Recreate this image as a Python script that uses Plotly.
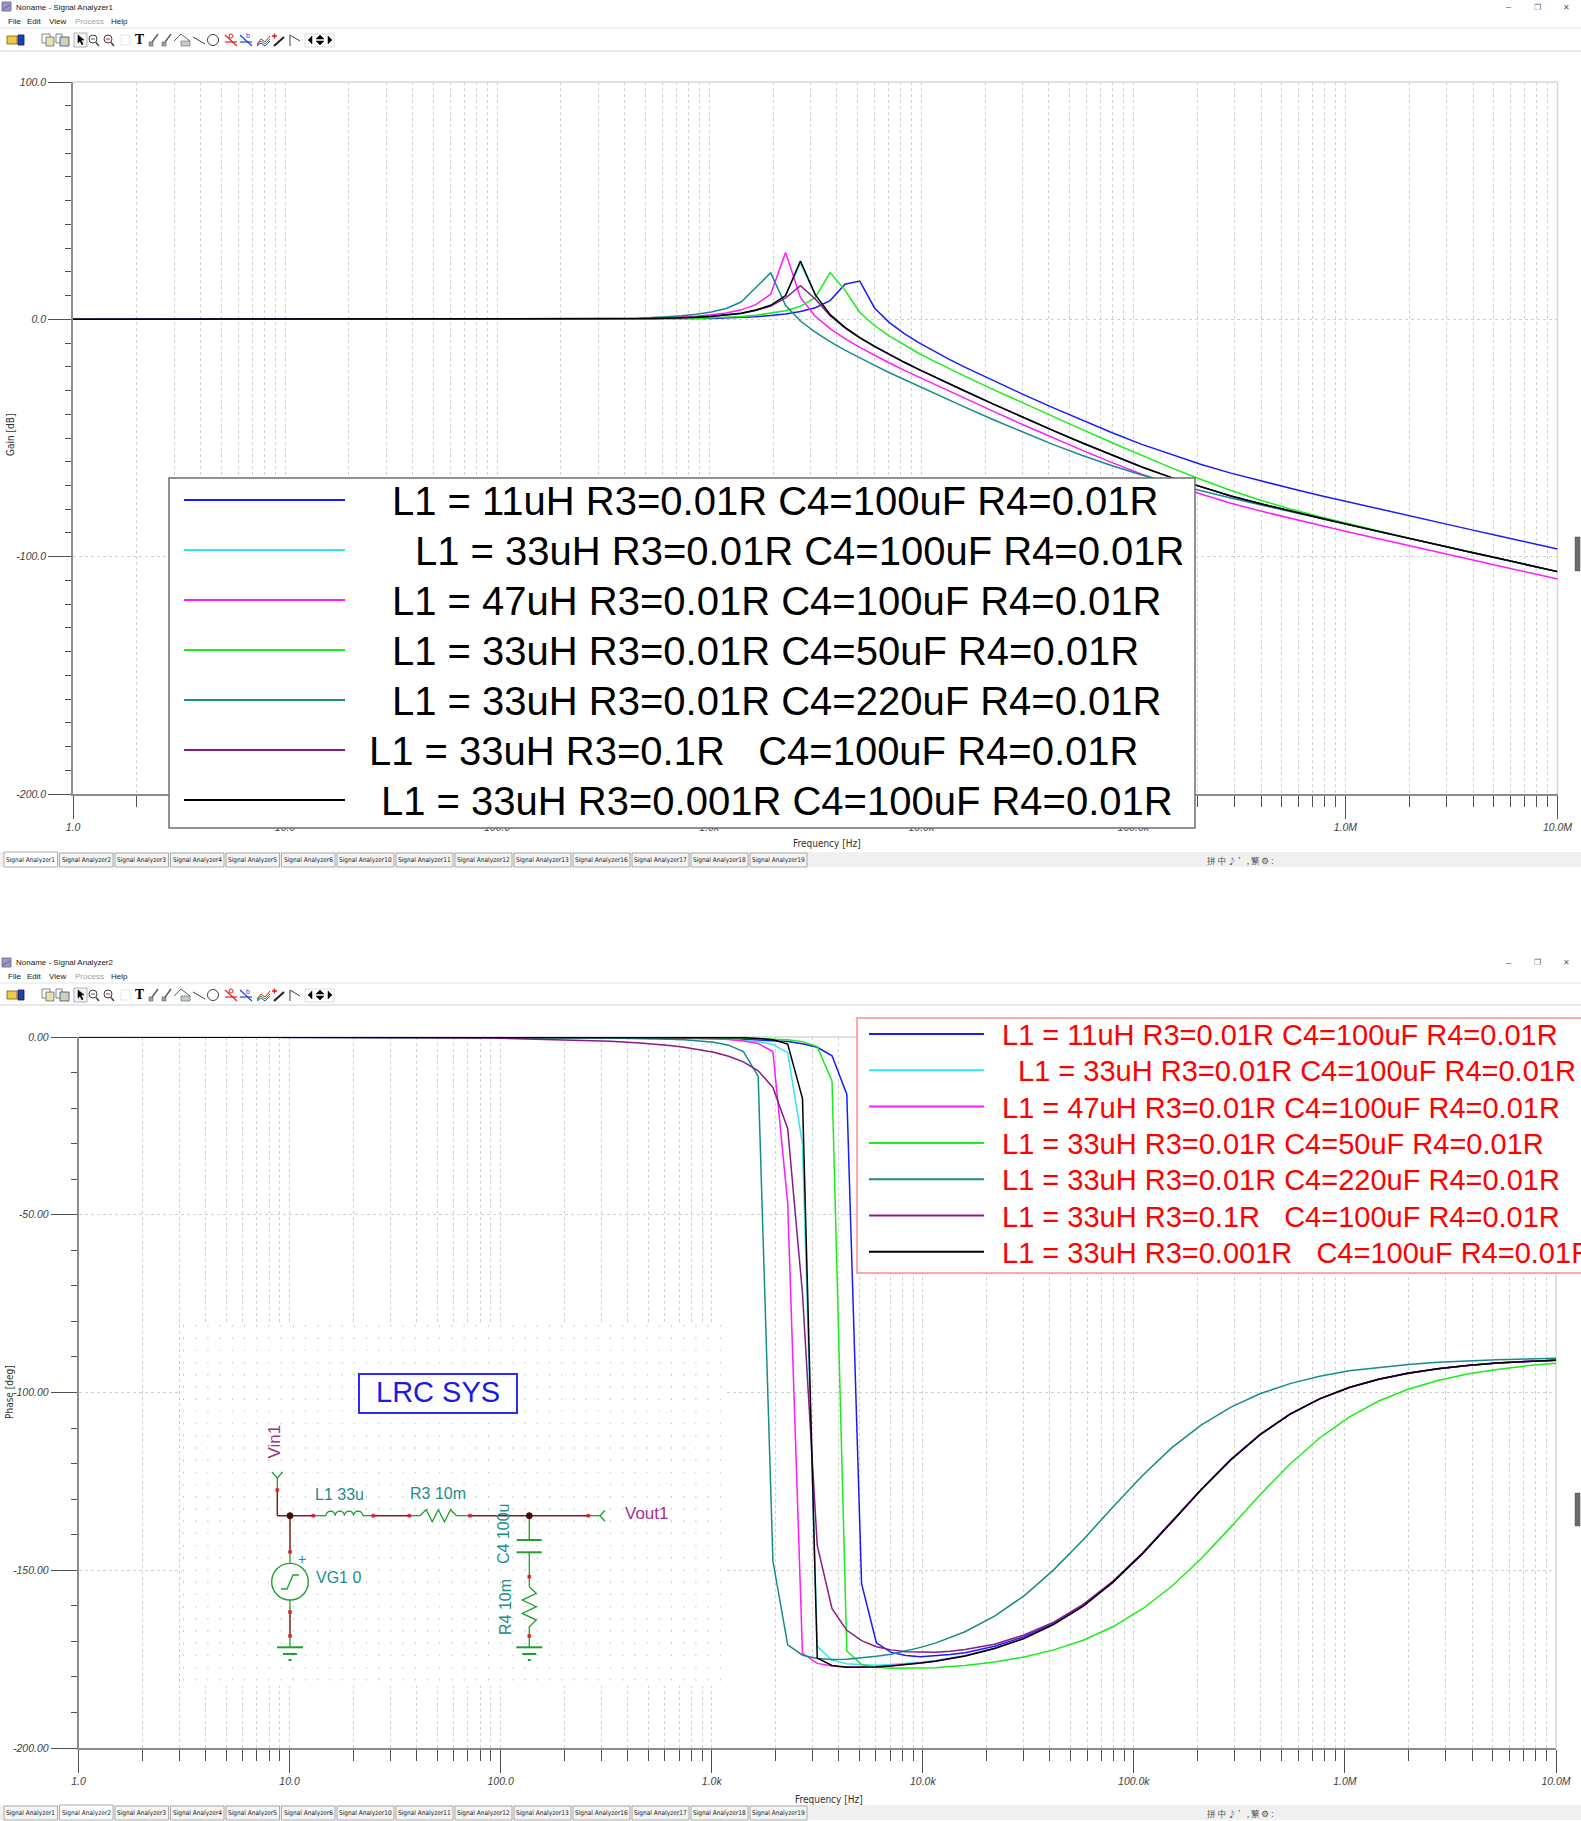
import math
import plotly.graph_objects as go

# ---------------------------------------------------------------
# values read off the two TINA signal analyser windows
# ---------------------------------------------------------------
FREQ_HZ = [1, 5.012, 25.12, 56.23, 91.2, 125.9, 173.8, 239.9, 331.1, 457.1, 537,
           631, 741.3, 871, 1023, 1202, 1413, 1660, 1950, 2291, 2692, 3162, 3715, 4365,
           5129, 6026, 7079, 8318, 9772, 11480, 13490, 15850,
           21880, 30200, 41690, 57540, 79430, 109600, 151400, 208900, 288400, 398100,
           549500, 758600, 1047000, 1445000, 1995000, 2754000, 3802000, 5248000, 7244000, 10000000]

# gain [dB]
GAIN_L11 = [0, 0, 0, 0, 0, 0, 0, 0, 0, 0.1, 0.1,
            0.2, 0.2, 0.3, 0.4, 0.6, 0.8, 1.1, 1.6, 2.2, 3.3, 4.9, 7.9, 14.8, 16.1, 4.7, -1.4, -6.0, -9.9, -13.5, -16.8, -19.9,
            -25.8, -31.6, -37.2, -42.6, -47.8, -52.7, -57.1, -61.2, -64.8, -68.1, -71.2, -74.2, -77.1, -79.9, -82.8, -85.6, -88.4, -91.2, -94.0, -96.8]
GAIN_L33 = [0, 0, 0, 0, 0, 0, 0, 0.1, 0.1, 0.2, 0.3,
            0.5, 0.6, 0.9, 1.3, 1.8, 2.6, 3.9, 5.9, 10.0, 23.7, 10.3, 1.9, -3.4, -7.7, -11.4, -14.8, -18.1, -21.2, -24.2, -27.1, -30.0,
            -35.7, -41.3, -46.8, -52.1, -57.3, -62.2, -66.7, -70.7, -74.4, -77.7, -80.8, -83.7, -86.6, -89.5, -92.3, -95.1, -97.9, -100.7, -103.5, -106.3]
GAIN_L47 = [0, 0, 0, 0, 0, 0, 0, 0.1, 0.2, 0.3, 0.5,
            0.7, 0.9, 1.3, 1.9, 2.7, 4.0, 6.2, 10.6, 28.2, 9.2, 1.3, -3.9, -8.1, -11.8, -15.2, -18.4, -21.5, -24.4, -27.4, -30.3, -33.1,
            -38.8, -44.4, -49.9, -55.2, -60.4, -65.3, -69.8, -73.8, -77.5, -80.8, -83.9, -86.8, -89.7, -92.6, -95.4, -98.2, -101.0, -103.8, -106.6, -109.4]
GAIN_C50 = [0, 0, 0, 0, 0, 0, 0, 0, 0.1, 0.1, 0.2,
            0.2, 0.3, 0.4, 0.6, 0.9, 1.2, 1.7, 2.5, 3.6, 5.5, 9.1, 19.7, 12.3, 2.9, -2.7, -7.1, -10.9, -14.4, -17.6, -20.7, -23.7,
            -29.6, -35.3, -40.9, -46.5, -52.0, -57.4, -62.6, -67.5, -72.1, -76.2, -79.9, -83.2, -86.3, -89.3, -92.2, -95.1, -97.9, -100.7, -103.5, -106.3]
GAIN_C220 = [0, 0, 0, 0, 0, 0, 0.1, 0.1, 0.3, 0.5, 0.7,
             1.1, 1.5, 2.1, 3.1, 4.6, 7.3, 13.3, 19.6, 5.9, -0.7, -5.4, -9.4, -13.0, -16.3, -19.4, -22.5, -25.4, -28.3, -31.2, -34.0, -36.8,
             -42.3, -47.6, -52.7, -57.4, -61.7, -65.6, -69.0, -72.2, -75.3, -78.2, -81.1, -83.9, -86.7, -89.5, -92.3, -95.1, -97.9, -100.7, -103.5, -106.3]
GAIN_R01 = [0, 0, 0, 0, 0, 0, 0, 0.1, 0.1, 0.2, 0.3,
            0.5, 0.6, 0.9, 1.2, 1.8, 2.5, 3.7, 5.6, 9.0, 14.2, 8.6, 1.5, -3.6, -7.8, -11.5, -14.9, -18.1, -21.2, -24.2, -27.1, -30.0,
            -35.7, -41.3, -46.8, -52.1, -57.3, -62.2, -66.7, -70.7, -74.4, -77.7, -80.8, -83.7, -86.6, -89.5, -92.3, -95.1, -97.9, -100.7, -103.5, -106.3]
GAIN_R0001 = [0, 0, 0, 0, 0, 0, 0, 0.1, 0.1, 0.2, 0.3,
              0.5, 0.6, 0.9, 1.3, 1.8, 2.6, 3.9, 5.9, 10.0, 24.6, 10.4, 2.0, -3.4, -7.7, -11.4, -14.8, -18.1, -21.2, -24.2, -27.1, -30.0,
              -35.7, -41.3, -46.8, -52.1, -57.3, -62.2, -66.7, -70.7, -74.4, -77.7, -80.8, -83.7, -86.6, -89.5, -92.3, -95.1, -97.9, -100.7, -103.5, -106.3]

# phase [deg]
PHASE_L11 = [0, 0, 0, 0, 0, 0, -0.1, -0.1, -0.1, -0.2, -0.2,
             -0.2, -0.3, -0.3, -0.4, -0.5, -0.6, -0.8, -1.0, -1.3, -1.9, -2.9, -5.3, -16.1, -153.8, -170.4, -173.1, -174.0, -174.3, -174.1, -173.7, -173.2,
             -171.4, -168.7, -164.9, -159.8, -153.3, -145.3, -136.3, -127.2, -118.8, -111.7, -106.1, -101.8, -98.6, -96.3, -94.6, -93.3, -92.4, -91.7, -91.3, -90.9]
PHASE_L33 = [0, 0, 0, 0, 0, 0, -0.1, -0.1, -0.1, -0.2, -0.2,
             -0.3, -0.3, -0.4, -0.5, -0.6, -0.9, -1.3, -2.1, -4.4, -30.1, -171.4, -175.3, -176.3, -176.6, -176.7, -176.5, -176.3, -175.9, -175.4, -174.7, -174.0,
             -171.9, -169.1, -165.2, -160.0, -153.4, -145.4, -136.4, -127.3, -118.9, -111.8, -106.1, -101.8, -98.6, -96.3, -94.6, -93.3, -92.4, -91.7, -91.3, -90.9]
PHASE_L47 = [0, 0, 0, 0, 0, 0, -0.1, -0.1, -0.1, -0.2, -0.2,
             -0.3, -0.3, -0.4, -0.5, -0.7, -1.1, -1.8, -4.1, -46.8, -173.4, -176.2, -176.9, -177.2, -177.2, -177.1, -176.8, -176.5, -176.1, -175.5, -174.9, -174.1,
             -172.0, -169.1, -165.2, -160.1, -153.4, -145.4, -136.4, -127.3, -118.9, -111.8, -106.1, -101.8, -98.6, -96.3, -94.6, -93.3, -92.4, -91.7, -91.3, -90.9]
PHASE_C50 = [0, 0, 0, 0, 0, 0, 0, 0, -0.1, -0.1, -0.1,
             -0.1, -0.1, -0.2, -0.2, -0.3, -0.3, -0.4, -0.6, -0.8, -1.3, -2.7, -12.4, -172.7, -176.5, -177.3, -177.6, -177.6, -177.6, -177.4, -177.1, -176.8,
             -175.8, -174.4, -172.4, -169.7, -165.9, -160.9, -154.5, -146.7, -137.8, -128.6, -120.1, -112.8, -106.9, -102.4, -99.1, -96.6, -94.8, -93.5, -92.5, -91.8]
PHASE_C220 = [0, 0, 0, 0, -0.1, -0.1, -0.1, -0.2, -0.3, -0.4, -0.5,
              -0.6, -0.8, -1.1, -1.5, -2.3, -4.1, -11.0, -147.4, -171.0, -173.9, -174.8, -175.1, -175.0, -174.7, -174.2, -173.6, -172.7, -171.7, -170.5, -169.0, -167.3,
              -162.9, -157.2, -149.9, -141.4, -132.3, -123.4, -115.5, -109.1, -104.1, -100.3, -97.5, -95.4, -93.9, -92.9, -92.1, -91.5, -91.1, -90.8, -90.6, -90.4]
PHASE_R01 = [0, 0, -0.1, -0.2, -0.3, -0.5, -0.6, -0.9, -1.2, -1.7, -2.0,
             -2.4, -2.9, -3.5, -4.3, -5.4, -7.0, -9.5, -14.2, -25.8, -72.2, -143.0, -160.8, -166.9, -169.8, -171.5, -172.4, -172.9, -173.1, -173.1, -172.8, -172.3,
             -170.8, -168.2, -164.6, -159.6, -153.1, -145.2, -136.2, -127.2, -118.8, -111.7, -106.1, -101.8, -98.6, -96.3, -94.5, -93.3, -92.4, -91.7, -91.3, -90.9]
PHASE_R0001 = [0, 0, 0, 0, 0, 0, 0, 0, 0, 0, 0,
               0, 0, -0.1, -0.1, -0.2, -0.2, -0.4, -0.8, -2.0, -17.3, -174.7, -176.8, -177.3, -177.3, -177.2, -176.9, -176.6, -176.1, -175.6, -174.9, -174.1,
               -172.0, -169.2, -165.2, -160.1, -153.4, -145.4, -136.4, -127.3, -118.9, -111.8, -106.1, -101.8, -98.6, -96.3, -94.6, -93.3, -92.4, -91.7, -91.3, -90.9]

GAIN_SERIES = [GAIN_L11, GAIN_L33, GAIN_L47, GAIN_C50, GAIN_C220, GAIN_R01, GAIN_R0001]
PHASE_SERIES = [PHASE_L11, PHASE_L33, PHASE_L47, PHASE_C50, PHASE_C220, PHASE_R01, PHASE_R0001]
SERIES_COLORS = ["#1a1aff", "#33e6f2", "#ff1aff", "#1aee1a", "#178a8a", "#8a1a8a", "#000000"]

GAIN_LABELS = ["L1 = 11uH R3=0.01R C4=100uF R4=0.01R",
               "L1 = 33uH R3=0.01R C4=100uF R4=0.01R",
               "L1 = 47uH R3=0.01R C4=100uF R4=0.01R",
               "L1 = 33uH R3=0.01R C4=50uF R4=0.01R",
               "L1 = 33uH R3=0.01R C4=220uF R4=0.01R",
               "L1 = 33uH R3=0.1R   C4=100uF R4=0.01R",
               "L1 = 33uH R3=0.001R C4=100uF R4=0.01R"]
PHASE_LABELS = GAIN_LABELS[:6] + ["L1 = 33uH R3=0.001R   C4=100uF R4=0.01R"]

X_TICK_HZ = [1, 10, 100, 1e3, 1e4, 1e5, 1e6, 1e7]
X_TICK_TEXT = ["1.0", "10.0", "100.0", "1.0k", "10.0k", "100.0k", "1.0M", "10.0M"]
GAIN_TICKS = [100, 0, -100, -200]
GAIN_TICK_TEXT = ["100.0", "0.0", "-100.0", "-200.0"]
PHASE_TICKS = [0, -50, -100, -150, -200]
PHASE_TICK_TEXT = ["0.00", "-50.00", "-100.00", "-150.00", "-200.00"]
TAB_NAMES = ["1", "2", "3", "4", "5", "6", "10", "11", "12", "13", "16", "17", "18", "19"]

# ---------------------------------------------------------------
W, H = 1581, 1821
UI_FONT = "Liberation Sans Narrow, DejaVu Sans Condensed, Liberation Sans, sans-serif"
ARIAL = "Liberation Sans, Arial, sans-serif"
GRID = "#d0d0d0"
AXIS = "#8c8c8c"
TICK = "#505050"

shapes = []
annotations = []


def px(x):
    return x / W


def py(y):
    return 1 - y / H


def line(x0, y0, x1, y1, color, width=1.0, dash="solid", layer="above"):
    shapes.append(dict(type="line", xref="paper", yref="paper", layer=layer,
                       x0=px(x0), y0=py(y0), x1=px(x1), y1=py(y1),
                       line=dict(color=color, width=width, dash=dash)))


def rect(x0, y0, x1, y1, color, fill="rgba(0,0,0,0)", width=1.0, layer="above"):
    shapes.append(dict(type="rect", xref="paper", yref="paper", layer=layer,
                       x0=px(x0), y0=py(y0), x1=px(x1), y1=py(y1),
                       line=dict(color=color, width=width), fillcolor=fill))


def circle(cx, cy, r, color, fill="rgba(0,0,0,0)", width=1.0):
    shapes.append(dict(type="circle", xref="paper", yref="paper", layer="above",
                       x0=px(cx - r), y0=py(cy + r), x1=px(cx + r), y1=py(cy - r),
                       line=dict(color=color, width=width), fillcolor=fill))


def poly(points, color, width=1.0, fill=None):
    d = "M " + " L ".join("%.6f,%.6f" % (px(x), py(y)) for x, y in points)
    if fill:
        d += " Z"
    shapes.append(dict(type="path", xref="paper", yref="paper", layer="above", path=d,
                       line=dict(color=color, width=width),
                       fillcolor=fill if fill else "rgba(0,0,0,0)"))


def text(x, y, s, size, color="#000000", family=ARIAL, xanchor="center", yanchor="middle",
         angle=0, style="normal", weight="normal"):
    annotations.append(dict(x=px(x), y=py(y), xref="paper", yref="paper", text=s,
                            showarrow=False, xanchor=xanchor, yanchor=yanchor, textangle=angle,
                            font=dict(family=family, size=size, color=color, style=style, weight=weight)))


def window_chrome(title, y_title, y_menu, y_sep1, y_tool, y_sep2):
    rect(2, y_title - 5, 11, y_title + 4, "#6a5a9a", "#a890d0", 0.8)
    line(3, y_title + 2, 10, y_title - 2, "#30a040", 1.2)
    text(14, y_title, title, 8, "#202020", ARIAL, xanchor="left")
    text(1508, y_title, "\u2013", 9, "#606060")
    text(1537, y_title, "\u2750", 8, "#606060", "DejaVu Sans")
    text(1566, y_title, "\u2715", 8, "#606060", "DejaVu Sans")
    for label, x, col in [("File", 6, "#202020"), ("Edit", 25, "#202020"), ("View", 47, "#202020"),
                          ("Process", 73, "#a0a0a0"), ("Help", 109, "#202020")]:
        text(x, y_menu, label, 8, col, ARIAL, xanchor="left")
    line(0, y_sep1, W, y_sep1, "#e4e4e4", 1)
    line(0, y_sep2, W, y_sep2, "#cfcfcf", 1.2)
    yc = y_tool
    # toolbar buttons (simplified glyphs)
    rect(7, yc - 4, 17, yc + 4, "#7a5a00", "#efc94c", 0.8)
    rect(18, yc - 5, 24, yc + 5, "#101060", "#2040b0", 0.8)
    rect(42, yc - 6, 50, yc + 3, "#666666", "#ffffff", 0.8)
    rect(46, yc - 3, 54, yc + 6, "#666666", "#e8e0b0", 0.8)
    rect(56, yc - 6, 62, yc + 3, "#666666", "#ffffff", 0.8)
    rect(60, yc - 3, 69, yc + 6, "#2050a0", "#d8d0a8", 0.8)
    rect(74, yc - 7, 87, yc + 7, "#a0a0a0", "#f4f4f4", 0.8)
    poly([(78, yc - 5), (78, yc + 3), (80, yc + 1), (82, yc + 5), (83, yc + 4), (81, yc), (84, yc)],
         "#000000", 0.6, "#000000")
    for zx, mark in [(93, "#208020"), (108, "#c02020")]:
        circle(zx, yc - 1, 4, "#404040", "#ffffff", 1)
        line(zx - 2, yc - 1, zx + 2, yc - 1, mark, 1)
        line(zx + 3, yc + 2.5, zx + 6, yc + 6, "#404040", 1.5)
    rect(121, yc - 5, 130, yc + 5, "#e0e0e0", "#ffffff", 0.8)
    text(139.5, yc, "T", 12, "#000000", "DejaVu Serif", weight="bold")
    for ix in (149, 162):
        line(ix + 1, yc + 5, ix + 9, yc - 6, "#606060", 1.5)
        rect(ix, yc + 2, ix + 4, yc + 6, "#606060", "#a0a0a0", 0.6)
    poly([(174, yc + 1), (181, yc - 6), (190, yc + 1)], "#606060", 1)
    rect(181, yc + 1, 190, yc + 6, "#606060", "#c0d0c0", 0.6)
    line(193, yc - 3, 205, yc + 4, "#404040", 1)
    circle(213, yc, 5.5, "#404040", "#ffffff", 1)
    line(225, yc - 5, 237, yc + 6, "#e02020", 1.2)
    line(225, yc + 2, 237, yc + 2, "#e02020", 1.2)
    circle(231, yc - 4, 2, "#e02020", "#ffffff", 1)
    line(240, yc - 5, 252, yc + 6, "#2040e0", 1.2)
    line(240, yc + 2, 252, yc + 2, "#2040e0", 1.2)
    text(248, yc - 4, "b", 7, "#2040e0")
    poly([(257, yc + 4), (261, yc - 1), (265, yc + 2), (270, yc - 4)], "#e02020", 1)
    poly([(257, yc + 5), (261, yc + 1), (265, yc + 4), (270, yc - 1)], "#20b020", 1)
    poly([(257, yc + 6), (261, yc + 3), (265, yc + 6), (270, yc + 1)], "#2040e0", 1)
    line(272, yc - 4, 277, yc - 4, "#e02020", 1.5)
    line(274.5, yc - 6.5, 274.5, yc - 1.5, "#e02020", 1.5)
    line(274, yc + 6, 284, yc - 3, "#202020", 2)
    poly([(290, yc + 6), (290, yc - 5), (300, yc + 1)], "#404040", 1)
    rect(305, yc - 6, 334, yc + 7, "#c8c8c8", "#ffffff", 0.6)
    poly([(308, yc), (312, yc - 4), (312, yc + 4)], "#000000", 0.5, "#000000")
    poly([(316, yc - 1), (320, yc - 5), (324, yc - 1)], "#000000", 0.5, "#000000")
    poly([(316, yc + 1), (320, yc + 5), (324, yc + 1)], "#000000", 0.5, "#000000")
    poly([(332, yc), (328, yc - 4), (328, yc + 4)], "#000000", 0.5, "#000000")


def tab_strip(y0, y1, active):
    rect(0, y0, W, y1, "#f0f0f0", "#f0f0f0", 0)
    x = 4
    for i, name in enumerate(TAB_NAMES):
        w = 55.5 if len(name) == 1 else 59
        fill = "#ffffff" if i == active else "#f4f4f4"
        rect(x, y0 + (0 if i == active else 1), x + w - 2, y1, "#9a9a9a", fill, 0.8)
        text(x + (w - 2) / 2, (y0 + y1) / 2 + 0.5, "Signal Analyzer" + name, 6.5, "#202020", UI_FONT)
        x += w
    text(1240, (y0 + y1) / 2, "\u62fc \u4e2d \u266a \u2019, \u7e41 \u2699 :", 8.5, "#555555",
         "Noto Sans CJK SC")


def schematic():
    # white sheet with dot grid (hides plot grid behind it)
    rect(180, 1323, 727, 1686, "#ffffff", "#ffffff", 0)
    yy = 1326
    while yy < 1686:
        line(183, yy, 727, yy, "#bdbdbd", 1.4, "1px,11.2px")
        yy += 12.2
    rect(359, 1374, 517, 1413, "#2a2aff", "#ffffff", 2)
    text(438, 1392, "LRC SYS", 29, "#1a1ae6")

    wire, comp, lab, purp, pin = "#7a1f1f", "#1fa030", "#1e8c8c", "#a0308f", "#e02020"
    yw = 1515.7
    # input terminal and main wire
    line(272, 1472, 277.3, 1478, comp, 1.3)
    line(282.6, 1472, 277.3, 1478, comp, 1.3)
    line(277.3, 1478, 277.3, 1490, comp, 1.3)
    line(277.3, 1490, 277.3, yw, wire, 1.5)
    line(277.3, yw, 313.3, yw, wire, 1.5)
    line(313.3, yw, 326, yw, comp, 1.3)
    coil = []
    for i in range(4):
        cx = 326 + 4.6 + 9.2 * i
        for j in range(9):
            t = math.pi * j / 8
            coil.append((cx - 4.6 * math.cos(t), yw - 4.6 * math.sin(t)))
    poly(coil, comp, 1.3)
    line(362.7, yw, 373.3, yw, comp, 1.3)
    line(373.3, yw, 409.3, yw, wire, 1.5)
    line(409.3, yw, 420, yw, comp, 1.3)
    zig = [(420, yw)] + [(420 + 6.1 * j, yw + (-6 if j % 2 else 6)) for j in range(1, 6)] + [(456.7, yw)]
    poly(zig, comp, 1.3)
    line(456.7, yw, 470, yw, comp, 1.3)
    line(470, yw, 588.3, yw, wire, 1.5)
    line(588.3, yw, 600, yw, comp, 1.3)
    line(600, yw, 605, yw - 5.5, comp, 1.3)
    line(600, yw, 605, yw + 5.5, comp, 1.3)
    # source branch
    line(290, yw, 290, 1552, wire, 1.5)
    line(290, 1552, 290, 1563.4, comp, 1.3)
    circle(290, 1581.7, 18.3, comp, "#ffffff", 1.4)
    poly([(281, 1589), (287, 1589), (293, 1575), (299, 1575)], comp, 1.3)
    line(290, 1600, 290, 1612, comp, 1.3)
    line(290, 1612, 290, 1636, wire, 1.5)
    line(290, 1636, 290, 1647.3, comp, 1.3)
    # RC branch
    line(529.3, yw, 529.3, 1540, comp, 1.3)
    line(516.7, 1540, 541.7, 1540, comp, 2)
    line(516.7, 1552.3, 541.7, 1552.3, comp, 2)
    line(529.3, 1552.3, 529.3, 1586.7, comp, 1.3)
    zig = [(529.3, 1586.7)] + [(529.3 + (7 if j % 2 else -7), 1586.7 + 6.67 * j) for j in range(1, 6)] + [(529.3, 1626.7)]
    poly(zig, comp, 1.3)
    line(529.3, 1626.7, 529.3, 1647.3, comp, 1.3)
    for gx in (290, 529.3):
        line(gx - 13, 1647.3, gx + 13, 1647.3, comp, 2)
        line(gx - 7, 1654, gx + 7, 1654, comp, 2)
        line(gx - 1.5, 1660, gx + 1.5, 1660, comp, 2)
    for nx in (290, 529.3):
        circle(nx, yw, 3, "#4a0a0a", "#4a0a0a", 1)
    for qx, qy in [(313.3, yw), (373.3, yw), (409.3, yw), (470, yw), (588.3, yw), (277.3, 1490),
                   (290, 1552), (290, 1612), (290, 1636), (529.3, 1576.7), (529.3, 1636)]:
        rect(qx - 1.5, qy - 1.5, qx + 1.5, qy + 1.5, pin, pin, 0.5)
    text(273.5, 1442, "Vin1", 17, purp, angle=-90)
    text(339, 1494, "L1 33u", 16, lab)
    text(437.5, 1493, "R3 10m", 16, lab)
    text(647, 1513, "Vout1", 17, purp)
    text(338, 1577, "VG1 0", 16, lab)
    text(302, 1559, "+", 14, lab)
    text(503.5, 1533.5, "C4 100u", 16, lab, angle=-90)
    text(505, 1607, "R4 10m", 16, lab, angle=-90)


# ---------------------------------------------------------------
fig = go.Figure()
for vals, col in zip(GAIN_SERIES, SERIES_COLORS):
    fig.add_trace(go.Scatter(x=FREQ_HZ, y=vals, mode="lines", line=dict(color=col, width=1.5),
                             xaxis="x", yaxis="y", hoverinfo="skip", showlegend=False))
for vals, col in zip(PHASE_SERIES, SERIES_COLORS):
    fig.add_trace(go.Scatter(x=FREQ_HZ, y=vals, mode="lines", line=dict(color=col, width=1.5),
                             xaxis="x2", yaxis="y2", hoverinfo="skip", showlegend=False))

MINOR_HZ = [m * 10 ** d for d in range(7) for m in range(2, 10)]
tickfont = dict(family=ARIAL, size=10.5, color="#404040", style="italic")


def x_axis(dom, anchor):
    return dict(type="log", range=[0, 7], domain=dom, anchor=anchor, automargin=False,
                tickvals=X_TICK_HZ, ticktext=X_TICK_TEXT, ticks="outside", ticklen=23,
                tickwidth=1, tickcolor=TICK, showline=True, linecolor=AXIS, linewidth=1.5,
                showgrid=True, gridcolor=GRID, griddash="dot", gridwidth=1, zeroline=False,
                tickfont=tickfont, fixedrange=True,
                minor=dict(tickvals=MINOR_HZ, ticks="outside", ticklen=11, tickwidth=1,
                           tickcolor=TICK, showgrid=True, gridcolor=GRID, griddash="dot", gridwidth=1))


def y_axis(dom, anchor, rng, vals, labels, ticklen, minor_vals):
    return dict(range=rng, domain=dom, anchor=anchor, automargin=False, tickvals=vals, ticktext=labels,
                ticks="outside", ticklen=ticklen, tickwidth=1, tickcolor=TICK, showline=True,
                linecolor=AXIS, linewidth=1.5, showgrid=True, gridcolor=GRID, griddash="dot",
                gridwidth=1, zeroline=False, tickfont=tickfont, fixedrange=True,
                minor=dict(tickvals=minor_vals, ticks="outside", ticklen=6, tickwidth=1,
                           tickcolor=TICK, showgrid=False))


TOP = dict(x0=73, x1=1557.5, y0=82, y1=794)
BOT = dict(x0=78.5, x1=1556, y0=1037, y1=1748)

fig.update_layout(
    width=W, height=H, margin=dict(l=0, r=0, t=0, b=0, autoexpand=False),
    paper_bgcolor="#ffffff", plot_bgcolor="#ffffff", showlegend=False,
    xaxis=x_axis([px(TOP["x0"]), px(TOP["x1"])], "y"),
    yaxis=y_axis([py(TOP["y1"]), py(TOP["y0"])], "x", [-200, 100], GAIN_TICKS, GAIN_TICK_TEXT, 23,
                 list(range(-200, 101, 10))),
    yaxis3=dict(overlaying="y", anchor="x", range=[-200, 100], tickvals=[-150, -50, 50],
                automargin=False, ticks="outside", ticklen=11, tickwidth=1, tickcolor=TICK,
                showticklabels=False, showgrid=False, showline=False, zeroline=False, fixedrange=True),
    xaxis2=x_axis([px(BOT["x0"]), px(BOT["x1"])], "y2"),
    yaxis2=y_axis([py(BOT["y1"]), py(BOT["y0"])], "x2", [-200, 0], PHASE_TICKS, PHASE_TICK_TEXT, 26,
                  list(range(-200, 1, 10))),
)

# frame lines (top / right) of both plot areas
for box in (TOP, BOT):
    line(box["x0"], box["y0"], box["x1"], box["y0"], "#d6d6d6", 1.5, layer="below")
    line(box["x1"], box["y0"], box["x1"], box["y1"], "#d6d6d6", 1.5, layer="below")

window_chrome("Noname - Signal Analyzer1", 7, 21, 28, 40, 51)
window_chrome("Noname - Signal Analyzer2", 963, 977, 983, 995, 1005)
tab_strip(852, 867, 0)
tab_strip(1805, 1820, 1)
rect(1575, 537, 1580, 571, "#5a5a5a", "#6a6a6a", 0.5)
rect(1575, 1493, 1580, 1526, "#5a5a5a", "#6a6a6a", 0.5)

text(10, 435, "Gain [dB]", 10, "#303030", UI_FONT, angle=-90)
text(9, 1392, "Phase [deg]", 10, "#303030", UI_FONT, angle=-90)
text(827, 843, "Frequency [Hz]", 10, "#303030", UI_FONT)
text(829, 1799, "Frequency [Hz]", 10, "#303030", UI_FONT)

schematic()

# legend of the gain window
rect(169, 478, 1195, 828, "#6e6e6e", "#ffffff", 1.5)
top_text_x = [390, 413, 390, 390, 390, 367, 379]
for i, (lab, col) in enumerate(zip(GAIN_LABELS, SERIES_COLORS)):
    yy = 500 + 50 * i
    line(184, yy, 345, yy, col, 2)
    text(top_text_x[i], yy + 1, lab.replace(" ", "\u00a0"), 40, "#000000", ARIAL, xanchor="left")

# legend of the phase window (its right part runs past the window edge)
rect(857, 1018, 1600, 1273, "#ff8c8c", "#ffffff", 1.5)
bot_text_x = [1000, 1016, 1000, 1000, 1000, 1000, 1000]
for i, (lab, col) in enumerate(zip(PHASE_LABELS, SERIES_COLORS)):
    yy = 1034 + 36.3 * i
    line(869, yy, 984, yy, col, 2)
    text(bot_text_x[i], yy + 1, lab.replace(" ", "\u00a0"), 29, "#ff0000", ARIAL, xanchor="left")

fig.update_layout(shapes=shapes, annotations=annotations)
fig.write_html("out.html", config={"displayModeBar": False},
               post_script="document.body.style.margin='0px';document.body.style.padding='0px';"
                           "document.body.style.overflow='hidden';")
